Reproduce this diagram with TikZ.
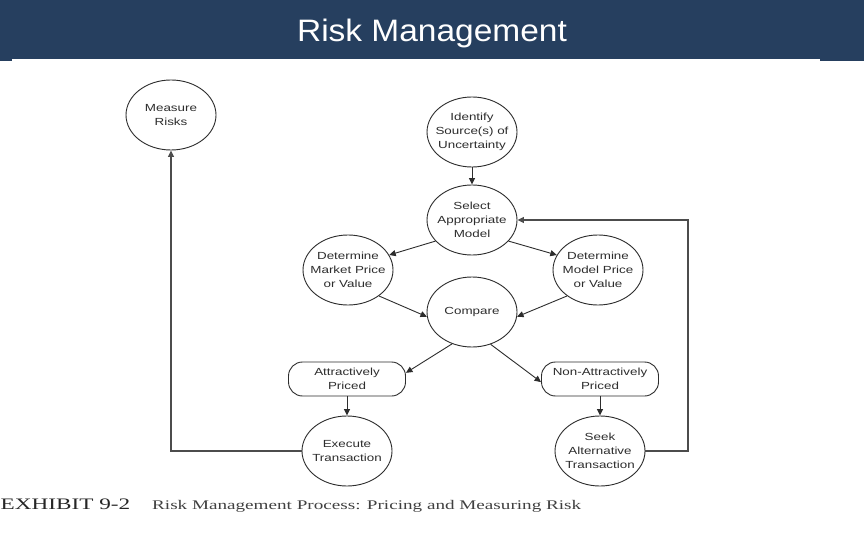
\documentclass[tikz,border=0pt]{standalone}
\usepackage{fontspec}
\usetikzlibrary{arrows.meta,shapes.geometric,calc}
\newfontfamily\nodefont[FakeStretch=1.3]{Liberation Sans}
\newfontfamily\titlefont[FakeStretch=1.08]{Liberation Sans}
\newfontfamily\capfont[FakeStretch=1.45]{Liberation Serif}
\newfontfamily\exhfont[FakeStretch=1.45]{Liberation Serif}
\definecolor{barblue}{RGB}{38,63,95}
\definecolor{ink}{RGB}{45,45,45}
\begin{document}
\begin{tikzpicture}[x=1pt,y=-1pt,
  oval/.style={ellipse, draw=ink, line width=0.9pt, minimum width=90pt, minimum height=70pt,
    inner xsep=-15pt, inner ysep=-10pt, align=center,
    font=\nodefont\fontsize{10.3}{14}\selectfont, text=ink},
  pill/.style={rectangle, rounded corners=14pt, draw=ink, line width=0.9pt,
    minimum width=117pt, minimum height=34pt, inner sep=0pt, align=center,
    font=\nodefont\fontsize{10.3}{14}\selectfont, text=ink},
  arr/.style={-{Triangle[length=6.5pt,width=6pt]}, line width=0.9pt, draw=ink},
  fb/.style={arr, draw=black!70, line width=1.2pt}]
\useasboundingbox (0,0) rectangle (864,540);
\fill[white] (0,0) rectangle (864,540);
\fill[barblue] (0,0) rectangle (864,59);
\fill[barblue] (0,59) rectangle (12,61);
\fill[barblue] (820,59) rectangle (864,61);
\node[font=\titlefont\fontsize{31}{31}\selectfont, text=white, anchor=base, inner sep=0pt] (title) at (432,42) {Risk Management};

\node[oval] (meas) at (171,115) {Measure\\Risks};
\node[oval] (idf) at (472,132) {Identify\\Source(s) of\\Uncertainty};
\node[oval] (sel) at (472,220) {Select\\Appropriate\\Model};
\node[oval] (mkt) at (348,270) {Determine\\Market Price\\or Value};
\node[oval] (mdl) at (598,270) {Determine\\Model Price\\or Value};
\node[oval] (cmp) at (472,312) {Compare};
\node[pill] (attr) at (347,379) {Attractively\\Priced};
\node[pill] (nat) at (600,379) {Non-Attractively\\Priced};
\node[oval] (exe) at (347,451) {Execute\\Transaction};
\node[oval] (seek) at (600,451) {Seek\\Alternative\\Transaction};
\coordinate (rc) at (688,0);

\draw[arr] (idf.south) -- (sel.north);
\draw[arr] (sel.210) -- (mkt.20);
\draw[arr] (sel.330) -- (mdl.160);
\draw[arr] (mkt.320) -- (cmp.186);
\draw[arr] (mdl.220) -- (cmp.354);
\draw[arr] (cmp.238) -- (attr.6);
\draw[arr] (cmp.300) -- (nat.183);
\draw[arr] (attr.south) -- (exe.north);
\draw[arr] (nat.south) -- (seek.north);
\draw[fb] (exe.west) -- (exe.west -| meas.south) -- (meas.south);
\draw[fb] (seek.east) -- (seek.east -| rc) |- (sel.east);

\node[anchor=base west, font=\exhfont\fontsize{16}{16}\selectfont, text=black!85, inner sep=0pt] (exh) at (0.5,509) {EXHIBIT 9-2};
\node[anchor=base west, font=\capfont\fontsize{13.2}{13.2}\selectfont, text=black!75, inner sep=0pt] (cap) at (152,509) {Risk Management Process: Pricing and Measuring Risk};
\end{tikzpicture}
\end{document}
